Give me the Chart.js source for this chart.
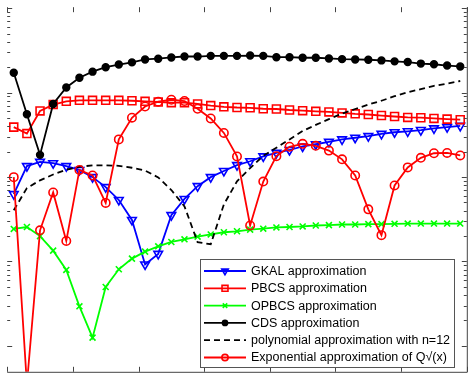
<!DOCTYPE html>
<html><head><meta charset="utf-8">
<script src="https://cdn.jsdelivr.net/npm/chart.js@4.4.0/dist/chart.umd.min.js"></script>
<style>html,body{margin:0;padding:0;background:#fff;overflow:hidden}canvas{display:block}</style>
</head><body><canvas id="c" width="474" height="379"></canvas>
<script>
const xValues = [0.5,1.5,2.5,3.5,4.5,5.5,6.5,7.5,8.5,9.5,10.5,11.5,12.5,13.5,14.5,15.5,16.5,17.5,18.5,19.5,20.5,21.5,22.5,23.5,24.5,25.5,26.5,27.5,28.5,29.5,30.5,31.5,32.5,33.5,34.5];
const xTickValues = [0,5,10,15,20,25,30,35];
const yDecades = [1e-4,1e-3,1e-2,1e-1,1e0];

const gkal = [0.00627,0.01347,0.0151,0.01458,0.01347,0.01213,0.00997,0.0076,0.00535,0.0031,0.000921,0.00123,0.00354,0.0055,0.0078,0.00997,0.0118,0.01383,0.01537,0.01754,0.0193,0.0209,0.023,0.02445,0.02605,0.0279,0.0292,0.0305,0.0324,0.0339,0.0348,0.036,0.0377,0.039,0.0404];
const pbcs = [0.039,0.0327,0.0606,0.0721,0.0789,0.081,0.081,0.081,0.081,0.0801,0.0789,0.0774,0.076,0.076,0.0734,0.0702,0.0679,0.0666,0.0661,0.0644,0.0639,0.0622,0.0611,0.06,0.059,0.0575,0.056,0.055,0.0535,0.0521,0.0508,0.0504,0.0494,0.0485,0.0478];
const opbcs = [0.002427,0.002557,0.001996,0.001343,0.000793,0.000294,0.0001251,0.000498,0.000808,0.00108,0.001308,0.00151,0.0017,0.00183,0.001965,0.002088,0.002218,0.002277,0.002381,0.002445,0.00253,0.002557,0.0026,0.002667,0.002695,0.00274,0.00274,0.002768,0.002768,0.00279,0.002812,0.002812,0.002812,0.002812,0.002812];
const cds = [0.172,0.0554,0.0183,0.0734,0.115,0.150,0.177,0.200,0.215,0.228,0.247,0.252,0.261,0.2675,0.2675,0.2725,0.2725,0.2725,0.2746,0.2725,0.2627,0.2627,0.2586,0.2586,0.2538,0.249,0.247,0.245,0.2406,0.2344,0.230,0.2207,0.2166,0.209,0.204];
const poly12 = [0.004036,0.0074,0.00914,0.01071,0.01222,0.01323,0.01376,0.01376,0.01358,0.01288,0.0119,0.0099,0.00702,0.00449,0.00169,0.0016,0.00473,0.0089,0.01278,0.01782,0.02224,0.0279,0.0351,0.0414,0.0485,0.0564,0.0639,0.0721,0.0801,0.0907,0.1008,0.11,0.1203,0.1278,0.1372];
const expQ = [0.00997,0.000035,0.002337,0.00657,0.00175,0.01213,0.01043,0.00494,0.0279,0.0504,0.0684,0.078,0.0823,0.0795,0.0644,0.0494,0.0333,0.01754,0.002667,0.00884,0.01768,0.02283,0.0247,0.02344,0.02055,0.0162,0.01043,0.00414,0.00205,0.00795,0.013,0.0169,0.01913,0.0193,0.018];

const legendLabels = ['GKAL approximation','PBCS approximation','OPBCS approximation','CDS approximation','polynomial approximation with n=12','Exponential approximation of Q\u221A(x)'];

const toXY = arr => xValues.map((x,i)=>({x:x,y:arr[i]}));

const series = [
  {label:legendLabels[0], data:toXY(gkal), borderColor:'#0000ff', pointStyle:'triangle', pointRotation:180, pointRadius:5, pointBackgroundColor:'rgba(0,0,0,0)', order:5},
  {label:legendLabels[1], data:toXY(pbcs), borderColor:'#ff0000', pointStyle:'rect', pointRadius:5.6, pointBackgroundColor:'rgba(0,0,0,0)', order:4},
  {label:legendLabels[2], data:toXY(opbcs), borderColor:'#00ff00', pointStyle:'crossRot', pointRadius:4.2, pointBackgroundColor:'rgba(0,0,0,0)', order:3},
  {label:legendLabels[3], data:toXY(cds), borderColor:'#000000', pointStyle:'circle', pointRadius:3.4, pointBackgroundColor:'#000000', order:2},
  {label:legendLabels[4], data:toXY(poly12), borderColor:'#000000', pointRadius:0, borderDash:[6,4], order:1},
  {label:legendLabels[5], data:toXY(expQ), borderColor:'#ff0000', pointStyle:'circle', pointRadius:4.2, pointBackgroundColor:'rgba(0,0,0,0)', order:0}
];
series.forEach(s=>{
  s.borderWidth = 1.8;
  s.pointBorderColor = s.borderColor;
  s.pointBorderWidth = 1.6;
  s.pointHoverRadius = s.pointRadius;
  s.tension = 0;
  s.fill = false;
  s.clip = 0;
});

const framePlugin = {
  id:'frame',
  afterDraw(chart){
    const ctx = chart.ctx, a = chart.chartArea;
    const xs = chart.scales.x, ys = chart.scales.y;
    ctx.save();
    ctx.strokeStyle = '#444';
    ctx.lineWidth = 1;
    ctx.beginPath();
    ctx.moveTo(a.right+0.5, a.top); ctx.lineTo(a.right+0.5, a.bottom+0.5);
    ctx.lineTo(a.left, a.bottom+0.5);
    ctx.stroke();
    ctx.beginPath();
    xTickValues.forEach(v=>{
      const px = Math.round(xs.getPixelForValue(v))+0.5;
      ctx.moveTo(px, a.top); ctx.lineTo(px, a.top+5);
      ctx.moveTo(px, a.bottom); ctx.lineTo(px, a.bottom-5);
    });
    yDecades.forEach(d=>{
      for(let k=1;k<=9;k++){
        const v = d*k;
        const py = ys.getPixelForValue(v);
        if(py < a.top || py > a.bottom) continue;
        const len = k===1?5:3;
        const p = Math.round(py)+0.5;
        ctx.moveTo(a.left, p); ctx.lineTo(a.left+len, p);
        ctx.moveTo(a.right, p); ctx.lineTo(a.right-len, p);
      }
    });
    ctx.stroke();

    const bx = 200.5, by = 259.5, bw = 254, bh = 108;
    ctx.fillStyle = '#fff';
    ctx.fillRect(bx, by, bw, bh);
    ctx.strokeStyle = '#555';
    ctx.strokeRect(bx, by, bw, bh);
    const rowY0 = 271, rowDy = 17.3;
    ctx.font = '12.5px "Liberation Sans", Arial, sans-serif';
    ctx.textBaseline = 'middle';
    chart.data.datasets.forEach((ds,i)=>{
      const y = rowY0 + i*rowDy;
      ctx.save();
      ctx.strokeStyle = ds.borderColor;
      ctx.lineWidth = ds.borderWidth;
      ctx.setLineDash(ds.borderDash || []);
      ctx.beginPath(); ctx.moveTo(204, y); ctx.lineTo(246, y); ctx.stroke();
      ctx.setLineDash([]);
      if(ds.pointRadius>0){
        ctx.fillStyle = ds.pointBackgroundColor;
        ctx.lineWidth = ds.pointBorderWidth;
        Chart.helpers.drawPoint(ctx, {pointStyle:ds.pointStyle, rotation:ds.pointRotation||0, radius:ds.pointRadius*0.75, borderWidth:ds.pointBorderWidth}, 225, y);
      }
      ctx.restore();
      ctx.fillStyle = '#000';
      ctx.fillText(ds.label, 251, y+0.5);
    });
    ctx.restore();
  }
};

new Chart(document.getElementById('c'), {
  type:'line',
  data:{datasets:series},
  options:{
    responsive:false,
    animation:false,
    events:[],
    layout:{padding:{left:0,right:5,top:0,bottom:2}},
    plugins:{legend:{display:false},tooltip:{enabled:false}},
    scales:{
      x:{type:'linear',min:0,max:35,display:false},
      y:{type:'logarithmic',min:4.93e-5,max:1.027,display:false}
    }
  },
  plugins:[framePlugin]
});
</script>
</body></html>
